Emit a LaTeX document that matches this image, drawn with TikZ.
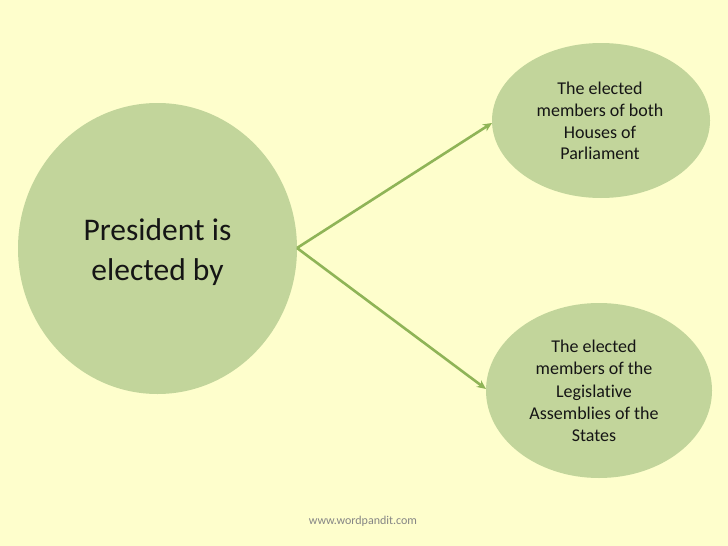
\documentclass[tikz,border=0pt]{standalone}
\usepackage{fontspec}
\setmainfont[Ligatures=NoCommon]{Carlito}
\usetikzlibrary{arrows.meta}
\definecolor{bg}{HTML}{FEFECC}
\definecolor{blob}{HTML}{C2D59B}
\definecolor{arr}{HTML}{8FB457}
\definecolor{txt}{HTML}{151515}
\definecolor{mark}{HTML}{858585}
\begin{document}
\begin{tikzpicture}[x=1pt,y=-1pt,
  arrowline/.style={draw=arr, line width=2.6pt, -{Stealth[length=9pt,width=8pt]}}]
\useasboundingbox[fill=bg] (0,0) rectangle (728,546);
% main ellipse
\fill[blob] (157.5,248.5) ellipse [x radius=139.5, y radius=145.5];
\node[text=txt, align=center, font=\fontsize{31.5}{40}\selectfont] (pres) at (157.5,252) {President is\\elected by};
\coordinate (apex) at (297,248);
% top right
\fill[blob] (601,120.5) ellipse [x radius=109, y radius=77.5];
\node[text=txt, align=center, font=\fontsize{18}{21.7}\selectfont] (parl) at (600,121) {The elected\\members of both\\Houses of\\Parliament};
\coordinate (topend) at (492,123);
% bottom right
\fill[blob] (599,390.5) ellipse [x radius=113, y radius=87.5];
\node[text=txt, align=center, font=\fontsize{18}{22.2}\selectfont] (states) at (594,391) {The elected\\members of the\\Legislative\\Assemblies of the\\States};
\coordinate (botend) at (486,389);
% arrows
\draw[arrowline] (apex) -- (topend);
\draw[arrowline] (apex) -- (botend);
% watermark
\node[text=mark, font=\fontsize{12}{14}\selectfont] (wm) at (363,521) {www.wordpandit.com};
\end{tikzpicture}
\end{document}
